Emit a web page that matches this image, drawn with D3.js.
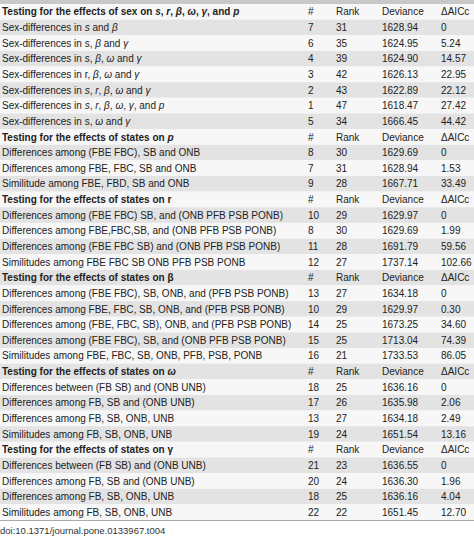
<!DOCTYPE html>
<html><head><meta charset="utf-8">
<script src="https://cdn.jsdelivr.net/npm/d3@7"></script>
<style>body{margin:0;background:#fff}</style>
</head><body><div id="chart"></div>
<script>
// rows: labels use *x* for italic, headers flagged with "H:"
const labels = [
  "H:Testing for the effects of sex on *s*, *r*, *β*, *ω*, *γ*, and *p*",
  "Sex-differences in *s* and *β*",
  "Sex-differences in s, *β* and *γ*",
  "Sex-differences in s, *β*, *ω* and *γ*",
  "Sex-differences in r, *β*, *ω* and *γ*",
  "Sex-differences in *s*, *r*, *β*, *ω* and *γ*",
  "Sex-differences in *s*, *r*, *β*, *ω*, *γ*, and *p*",
  "Sex-differences in s, *ω* and *γ*",
  "H:Testing for the effects of states on *p*",
  "Differences among (FBE FBC), SB and ONB",
  "Differences among FBE, FBC, SB and ONB",
  "Similitude among FBE, FBD, SB and ONB",
  "H:Testing for the effects of states on r",
  "Differences among (FBE FBC) SB, and (ONB PFB PSB PONB)",
  "Differences among FBE,FBC,SB, and (ONB PFB PSB PONB)",
  "Differences among (FBE FBC SB) and (ONB PFB PSB PONB)",
  "Similitudes among FBE FBC SB ONB PFB PSB PONB",
  "H:Testing for the effects of states on β",
  "Differences among (FBE FBC), SB, ONB, and (PFB PSB PONB)",
  "Differences among FBE, FBC, SB, ONB, and (PFB PSB PONB)",
  "Differences among (FBE, FBC, SB), ONB, and (PFB PSB PONB)",
  "Differences among (FBE FBC), SB, and (ONB PFB PSB PONB)",
  "Similitudes among FBE, FBC, SB, ONB, PFB, PSB, PONB",
  "H:Testing for the effects of states on *ω*",
  "Differences between (FB SB) and (ONB UNB)",
  "Differences among FB, SB and (ONB UNB)",
  "Differences among FB, SB, ONB, UNB",
  "Similitudes among FB, SB, ONB, UNB",
  "H:Testing for the effects of states on γ",
  "Differences between (FB SB) and (ONB UNB)",
  "Differences among FB, SB and (ONB UNB)",
  "Differences among FB, SB, ONB, UNB",
  "Similitudes among FB, SB, ONB, UNB"
];
const modelNo = ["#","7","6","4","3","2","1","5","#","8","7","9","#","10","8","11","12","#","13","10","14","15","16","#","18","17","13","19","#","21","20","18","22"];
const rank = ["Rank","31","35","39","42","43","47","34","Rank","30","31","28","Rank","29","30","28","27","Rank","27","29","25","25","21","Rank","25","26","27","24","Rank","23","24","25","22"];
const deviance = ["Deviance","1628.94","1624.95","1624.90","1626.13","1622.89","1618.47","1666.45","Deviance","1629.69","1628.94","1667.71","Deviance","1629.97","1629.69","1691.79","1737.14","Deviance","1634.18","1629.97","1673.25","1713.04","1733.53","Deviance","1636.16","1635.98","1634.18","1651.54","Deviance","1636.55","1636.30","1636.16","1651.45"];
const dAICc = ["ΔAICc","0","5.24","14.57","22.95","22.12","27.42","44.42","ΔAICc","0","1.53","33.49","ΔAICc","0","1.99","59.56","102.66","ΔAICc","0","0.30","34.60","74.39","86.05","ΔAICc","0","2.06","2.49","13.16","ΔAICc","0","1.96","4.04","12.70"];

const W = 474, H = 539;
const svg = d3.select("#chart").append("svg").attr("width", W).attr("height", H)
  .style("font-family", "'Liberation Sans', Arial, sans-serif").style("font-size", "10px");

const y = d3.scaleBand().domain(d3.range(labels.length)).range([4, 520]);
const cols = [
  {x: 2, vals: labels},
  {x: 308, vals: modelNo},
  {x: 336, vals: rank},
  {x: 382, vals: deviance},
  {x: 441, vals: dAICc}
];

svg.append("rect").attr("x", 0).attr("y", 0).attr("width", W).attr("height", 4).attr("fill", "#c8c8c8");

svg.selectAll("rect.row").data(labels).join("rect").attr("class", "row")
  .attr("x", 0).attr("width", W).attr("y", (d, i) => y(i)).attr("height", y.bandwidth())
  .attr("fill", (d, i) => i % 2 ? "#e3e3e3" : "#f7f7f7");

svg.append("line").attr("x1", 0).attr("x2", W).attr("y1", 520.5).attr("y2", 520.5).attr("stroke", "#aaa");

cols.forEach((c, ci) => {
  svg.selectAll(null).data(c.vals).join("text")
    .attr("x", c.x).attr("y", (d, i) => y(i) + y.bandwidth() / 2 + 3.6)
    .attr("fill", "#222")
    .attr("font-weight", (d, i) => labels[i].startsWith("H:") && (ci === 0) ? "bold" : null)
    .each(function(d) {
      const t = d3.select(this);
      const s = d.replace(/^H:/, "");
      s.split("*").forEach((part, k) => {
        if (part) t.append("tspan").attr("font-style", k % 2 ? "italic" : null).text(part);
      });
    });
});

svg.append("text").attr("x", 0).attr("y", 534).attr("fill", "#333").style("font-size", "9.5px")
  .text("doi:10.1371/journal.pone.0133967.t004");
</script></body></html>
